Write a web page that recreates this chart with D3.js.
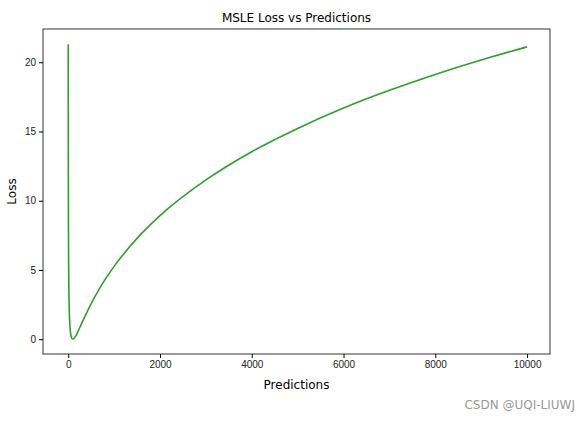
<!DOCTYPE html>
<html>
<head>
<meta charset="utf-8">
<script src="https://cdn.jsdelivr.net/npm/d3@7"></script>
<style>body{margin:0;background:#fff;font-family:"DejaVu Sans",sans-serif;}</style>
</head>
<body>
<svg width="587" height="421"></svg>
<script>
// values
const predictions = [0, 1, 2, 5, 10, 20, 30, 50, 70, 100, 150, 200, 300, 500, 700, 1000, 1500, 2000, 3000, 4000, 5000, 6000, 7000, 8000, 9000, 10000];
const loss = [21.3, 15.4, 12.4, 8.0, 4.9, 2.46, 1.39, 0.47, 0.12, 0, 0.16, 0.47, 1.19, 2.57, 3.76, 5.26, 7.28, 8.92, 11.5, 13.54, 15.22, 16.69, 17.97, 19.12, 20.16, 21.11];
const xTicks = [0, 2000, 4000, 6000, 8000, 10000];
const yTicks = [0, 5, 10, 15, 20];

const svg = d3.select("svg"),
      margin = {top: 29, right: 37, bottom: 67, left: 43},
      width = 587 - margin.left - margin.right,
      height = 421 - margin.top - margin.bottom;

const x = d3.scaleLinear().domain([-550, 10500]).range([0, width]);
const y = d3.scaleLinear().domain([-1.07, 22.4]).range([height, 0]);

const g = svg.append("g").attr("transform", "translate(" + margin.left + "," + margin.top + ")");

g.append("g").attr("transform", "translate(0," + height + ")")
  .call(d3.axisBottom(x).tickValues(xTicks).tickFormat(d3.format("d")).tickSizeOuter(0).tickSize(4))
  .call(a => a.select(".domain").remove())
  .selectAll("text").style("font-size", "10px").attr("fill", "#222");
g.append("g")
  .call(d3.axisLeft(y).tickValues(yTicks).tickFormat(d3.format("d")).tickSizeOuter(0).tickSize(4))
  .call(a => a.select(".domain").remove())
  .selectAll("text").style("font-size", "10px").attr("fill", "#222");

const pts = predictions.map((p, i) => [p, loss[i]]);
g.append("path").datum(pts)
  .attr("fill", "none").attr("stroke", "#2ca02c").attr("stroke-width", 1.6)
  .attr("d", d3.line().x(d => x(d[0])).y(d => y(d[1])).curve(d3.curveMonotoneX));

g.append("rect").attr("width", width).attr("height", height)
  .attr("fill", "none").attr("stroke", "#000").attr("stroke-width", 0.8);

svg.append("text").attr("x", margin.left + width / 2).attr("y", 22).attr("text-anchor", "middle")
  .style("font-size", "12px").text("MSLE Loss vs Predictions");
svg.append("text").attr("x", margin.left + width / 2).attr("y", 389).attr("text-anchor", "middle")
  .style("font-size", "12px").text("Predictions");
svg.append("text").attr("transform", "translate(16," + (margin.top + height / 2) + ") rotate(-90)")
  .attr("text-anchor", "middle").style("font-size", "12px").text("Loss");
svg.append("text").attr("x", 575).attr("y", 409).attr("text-anchor", "end")
  .style("font-size", "12px").attr("fill", "#999").text("CSDN @UQI-LIUWJ");
</script>
</body>
</html>
